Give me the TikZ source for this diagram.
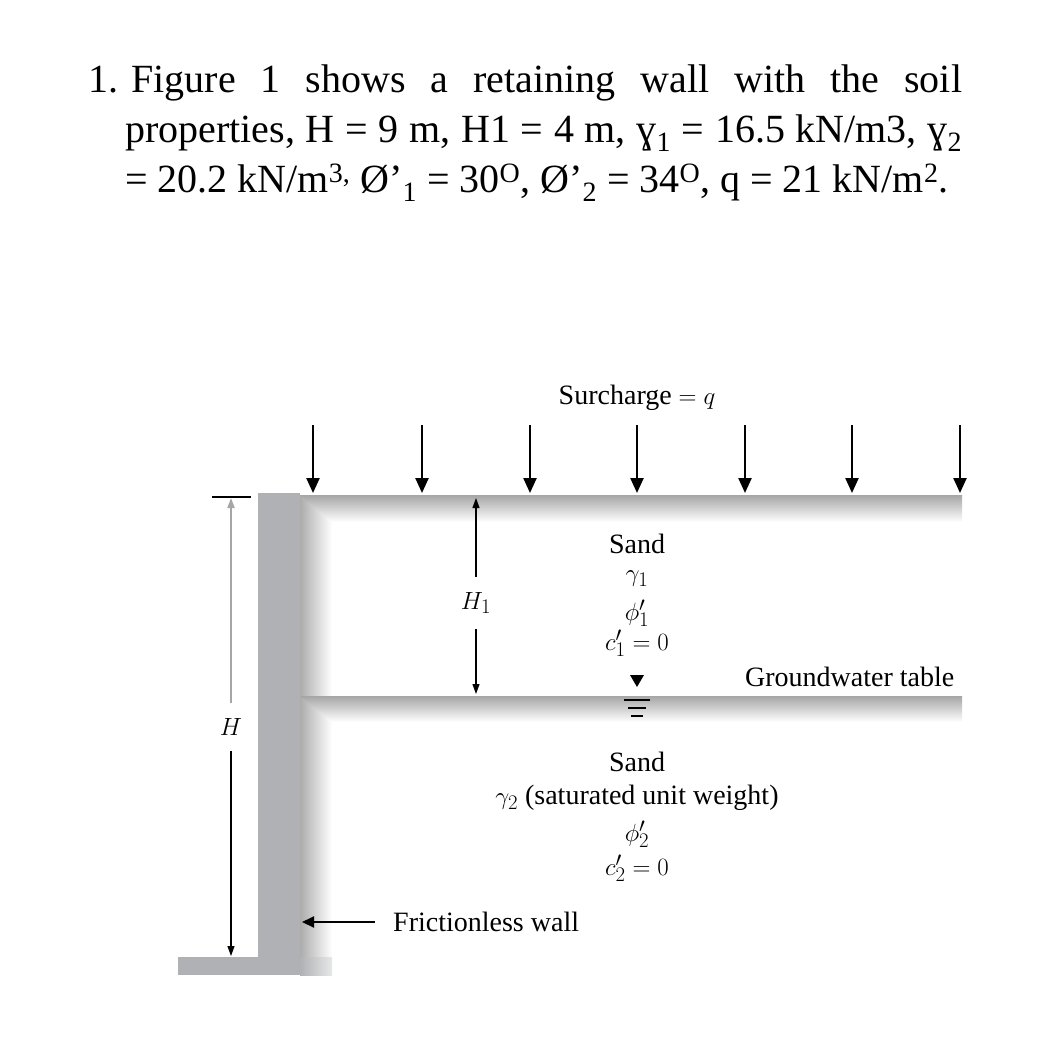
\documentclass[tikz,border=0pt]{standalone}
\usepackage{fontspec}
\setmainfont{Liberation Serif}
\usetikzlibrary{arrows.meta}
\definecolor{wallgray}{HTML}{B0B1B4}
\begin{document}
\begin{tikzpicture}[x=1pt,y=-1pt,
  load/.style={line width=2.4pt,-{Triangle[width=13pt,length=15pt]}},
  dim/.style={line width=1.1pt,-{Triangle[width=7pt,length=10pt]}},
  lbl/.style={font=\fontsize{28}{30}\selectfont,inner sep=0pt},
  ttl/.style={font=\fontsize{40}{44}\selectfont,inner sep=0pt,anchor=base west}]
\useasboundingbox (0,0) rectangle (1053,1039);
% title
\node[ttl] (t1) at (88,92) {\makebox[874pt][s]{\hbox{1. Figure} 1 shows a retaining wall with the soil}};
\node[ttl] (t2) at (125,142) {\makebox[837pt][s]{properties, H = 9 m, H1 = 4 m, ɣ\textsubscript{1} = 16.5 kN/m3, ɣ\textsubscript{2}}};
\node[ttl] (t3) at (125,192) {= 20.2 kN/m\textsuperscript{3,} Ø’\textsubscript{1} = 30\textsuperscript{O}, Ø’\textsubscript{2} = 34\textsuperscript{O}, q = 21 kN/m\textsuperscript{2}.};
% soil bands
\shade[left color=gray!65,right color=white] (300,495) rectangle (332,975);
\shade[top color=gray!70,bottom color=white] (300,495) -- (962,495) -- (962,522) -- (330,522) -- cycle;
\shade[top color=gray!70,bottom color=white] (300,696) -- (962,696) -- (962,722) -- (330,722) -- cycle;
\fill[wallgray] (178,957) rectangle (300,975);
\shade[left color=wallgray,right color=wallgray!30] (300,957) rectangle (332,975);
\fill[wallgray] (258,493) rectangle (300,958);
% surcharge
\node[lbl] (sur) at (637,398) {Surcharge $=q$};
\foreach \x in {313,422,530,637,745,852,960}{
  \coordinate (a\x) at (\x,425); \coordinate (b\x) at (\x,493);
  \draw[load] (a\x) -- (b\x);}
% H dimension
\coordinate (ht1) at (212,497); \coordinate (ht2) at (251,497);
\draw[line width=1.5pt] (ht1) -- (ht2);
\node[lbl] (H) at (231,727) {$H$};
\coordinate (htop) at (231,498); \coordinate (hbot) at (231,956);
\draw[dim,draw=gray!70,line width=2pt] (H.north) ++(0,-15) coordinate (hu) -- (htop);
\draw[dim] (H.south) ++(0,15) coordinate (hd) -- (hbot);
% H1
\node[lbl] (H1) at (476,603) {$H_1$};
\coordinate (h1t) at (476,498); \coordinate (h1b) at (476,694);
\draw[dim] (H1.north) ++(0,-15) -- (h1t);
\draw[dim] (H1.south) ++(0,15) -- (h1b);
% layer 1
\node[lbl] (s1) at (637,544) {Sand};
\node[lbl] (g1) at (637,579) {$\gamma_1$};
\node[lbl] (p1) at (637,613) {$\phi_1'$};
\node[lbl] (c1) at (637,643) {$c_1'=0$};
% water table symbol
\fill (630,675) -- (644,675) -- (637,687) -- cycle;
\draw[line width=1.3pt] (624,700) -- (650,700) (628,708) -- (646,708) (631,716) -- (643,716);
\node[lbl,anchor=west] (gw) at (745,677) {Groundwater table};
% layer 2
\node[lbl] (s2) at (637,762) {Sand};
\node[lbl] (g2) at (637,798) {$\gamma_2$ (saturated unit weight)};
\node[lbl] (p2) at (637,834) {$\phi_2'$};
\node[lbl] (c2) at (637,868) {$c_2'=0$};
% frictionless wall
\node[lbl,anchor=west] (fw) at (393,922) {Frictionless wall};
\coordinate (wallpt) at (302,922);
\draw[line width=2pt,-{Triangle[width=11pt,length=12pt]}] (fw.west) ++(-18,0) -- (wallpt);
\end{tikzpicture}
\end{document}
